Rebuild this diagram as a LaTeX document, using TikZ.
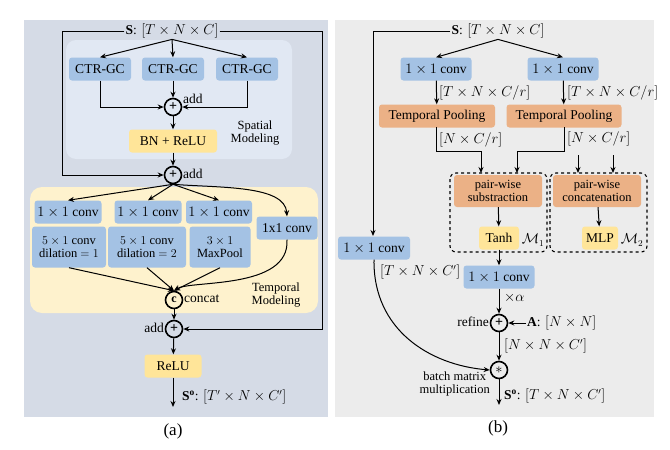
\documentclass[tikz,border=0pt]{standalone}
\usepackage{fontspec}
\setmainfont{Liberation Serif}
\usepackage{amsmath,amssymb}
\usetikzlibrary{arrows.meta}
\definecolor{bgA}{RGB}{213,219,230}
\definecolor{bgB}{RGB}{236,236,236}
\definecolor{spat}{RGB}{225,232,243}
\definecolor{temp}{RGB}{254,242,205}
\definecolor{blu}{RGB}{164,194,228}
\definecolor{yel}{RGB}{255,229,153}
\definecolor{ora}{RGB}{235,177,134}
\begin{document}
\begin{tikzpicture}[x=1pt,y=-1pt,font=\fontsize{13.5}{14}\selectfont,
 box/.style={fill=#1,rounded corners=3pt,align=center,inner sep=1pt,minimum height=23pt},
 two/.style={font=\fontsize{12.5}{13.5}\selectfont},
 op/.style={circle,draw,line width=1.6pt,minimum size=17pt,inner sep=0pt,font=\bfseries\fontsize{14}{14}\selectfont},
 ar/.style={-{Stealth[length=6pt,width=5pt]},line width=1pt},
 lab/.style={inner sep=1pt,align=center}]
\useasboundingbox (0,0) rectangle (670,450);
% backgrounds
\fill[bgA] (24,20) rectangle (328,417);
\fill[bgB] (335,20) rectangle (654,417);
\fill[spat,rounded corners=10pt] (66,40) rectangle (292,159);
\fill[temp,rounded corners=12pt] (30,187) rectangle (318,313);
% ===== (a)
\node[lab] (sa) at (172,31) {$\mathbf{S}$: $[T\times N\times C]$};
\node[box=blu,minimum width=62pt] (g1) at (100,69) {CTR-GC};
\node[box=blu,minimum width=62pt] (g2) at (173,69) {CTR-GC};
\node[box=blu,minimum width=62pt] (g3) at (247,69) {CTR-GC};
\node[op] (add1) at (173,107) {+};
\node[lab,anchor=west] at (182,99) {add};
\node[box=yel,minimum width=88pt] (bn) at (173,141) {BN + ReLU};
\node[lab,two] at (255,133) {Spatial\\Modeling};
\node[op] (add2) at (173,175) {+};
\node[lab,anchor=west] at (182,174) {add};
\node[box=blu,minimum width=67pt] (c1) at (68,212) {$1\times1$ conv};
\node[box=blu,minimum width=67pt] (c2) at (148,212) {$1\times1$ conv};
\node[box=blu,minimum width=66pt] (c3) at (219,212) {$1\times1$ conv};
\node[box=blu,minimum width=61pt] (c4) at (287,228) {1x1 conv};
\node[box=blu,two,minimum width=74pt,minimum height=41pt] (d1) at (69,247) {$5\times1$ conv\\dilation $=1$};
\node[box=blu,two,minimum width=78pt,minimum height=41pt] (d2) at (147,247) {$5\times1$ conv\\dilation $=2$};
\node[box=blu,two,minimum width=61pt,minimum height=41pt] (d3) at (220,247) {$3\times1$\\MaxPool};
\node[op,font=\bfseries\fontsize{12}{12}\selectfont] (cat) at (174,300) {c};
\node[lab,anchor=west] at (183,299) {concat};
\node[lab,two] at (276,295) {Temporal\\Modeling};
\node[op] (add3) at (174,329) {+};
\node[lab,anchor=east] at (165,328) {add};
\node[box=yel,minimum width=57pt] (relu) at (173,366) {ReLU};
\coordinate (oa) at (173,407);
\node[lab,anchor=west] at (181,397) {$\mathbf{S^o}$: $[T'\times N\times C']$};
\node[font=\fontsize{17}{17}\selectfont] at (173,431) {(a)};
\draw[ar] (sa.south) -- (g1.north);
\draw[ar] (sa.south) -- (g2.north);
\draw[ar] (sa.south) -- (g3.north);
\draw[ar] (g1.south) |- (add1.west);
\draw[ar] (g3.south) |- (add1.east);
\draw[ar] (g2) -- (add1);
\draw[ar] (add1) -- (bn);
\draw[ar] (bn) -- (add2);
\draw[ar] (sa.west) -- (62,31) |- (add2.west);
\draw[ar] (sa.east) -- (322,31) |- (add3.east);
\draw[ar] (add2.south) -- (c1.north);
\draw[ar] (add2.south) -- (c2.north);
\draw[ar] (add2.south) -- (c3.north);
\draw[ar] (add2.south) .. controls (220,188) and (285,185) .. (c4.north);
\draw[ar] (d1.south) -- (cat.north);
\draw[ar] (d2.south) -- (cat.north);
\draw[ar] (d3.south) -- (cat.north);
\draw[ar] (c4.south) .. controls (290,290) and (190,280) .. (cat.north);
\draw[ar] (cat) -- (add3);
\draw[ar] (add3) -- (relu);
\draw[ar] (relu) -- (oa);
% ===== (b)
\node[lab] (sb) at (498,31) {$\mathbf{S}$: $[T\times N\times C]$};
\node[box=blu,minimum width=71pt] (p1) at (436,69) {$1\times1$ conv};
\node[box=blu,minimum width=71pt] (p2) at (563,69) {$1\times1$ conv};
\node[box=ora,minimum width=116pt] (t1) at (437,116) {Temporal Pooling};
\node[box=ora,minimum width=115pt] (t2) at (564,116) {Temporal Pooling};
\node[lab,anchor=west] at (438,93) {$[T\times N\times C/r]$};
\node[lab,anchor=west] at (566,93) {$[T\times N\times C/r]$};
\node[lab,anchor=west] at (438,140) {$[N\times C/r]$};
\node[lab,anchor=west] at (566,139) {$[N\times C/r]$};
\draw[dashed,line width=1.1pt,rounded corners=6pt] (450,173) rectangle (547,252);
\draw[dashed,line width=1.1pt,rounded corners=6pt] (550,173) rectangle (647,252);
\node[box=ora,two,minimum width=88pt,minimum height=32pt] (pw1) at (498,191) {pair-wise\\substraction};
\node[box=ora,two,minimum width=88pt,minimum height=32pt] (pw2) at (597,191) {pair-wise\\concatenation};
\node[box=yel,minimum width=40pt] (tanh) at (499,238) {Tanh};
\node[box=yel,minimum width=36pt] (mlp) at (600,238) {MLP};
\node[lab] at (533,240) {$\mathcal{M}_1$};
\node[lab] at (632,240) {$\mathcal{M}_2$};
\node[box=blu,minimum width=71pt] (p3) at (499,277) {$1\times1$ conv};
\node[lab,anchor=west] at (503,298) {$\times\alpha$};
\node[op] (ref) at (499,323) {+};
\node[lab,anchor=east] at (490,322) {refine};
\node[lab,anchor=west] (A) at (526,323) {$\mathbf{A}$: $[N\times N]$};
\node[lab,anchor=west] at (503,346) {$[N\times N\times C']$};
\node[op,font=\bfseries\fontsize{14}{14}\selectfont] (mul) at (499,370) {$\ast$};
\node[lab,two,anchor=east] at (491,384) {batch matrix\\multiplication};
\coordinate (ob) at (499,405);
\node[lab,anchor=west] at (503,396) {$\mathbf{S^o}$: $[T\times N\times C']$};
\node[box=blu,minimum width=72pt] (p0) at (374,248) {$1\times1$ conv};
\node[lab,anchor=west] at (379,272) {$[T\times N\times C']$};
\node[font=\fontsize{17}{17}\selectfont] at (498,428) {(b)};
\coordinate (m1) at (578,155);
\coordinate (m2) at (613,155);
\draw[ar] (sb.south) -- (p1.north);
\draw[ar] (sb.south) -- (p2.north);
\draw[ar] (sb.west) -- (373,31) -- (373,236);
\draw[ar] (p1) -- (t1);
\draw[ar] (p2) -- (t2);
\draw[ar] (436,127) |- (481,151) -- (481,173);
\draw[ar] (564,127) |- (517,151) -- (517,173);
\draw[ar] (m1) -- (578,173);
\draw[ar] (m2) -- (613,173);
\draw[ar] (pw1) -- (tanh);
\draw[ar] (pw2) -- (mlp);
\draw[ar] (tanh) -- (p3);
\draw[ar] (p3) -- (ref);
\draw[ar] (A.west) -- (ref.east);
\draw[ar] (ref) -- (mul);
\draw[ar] (p0.south) .. controls (373,330) and (430,365) .. (mul.west);
\draw[ar] (mul) -- (ob);
\end{tikzpicture}
\end{document}
